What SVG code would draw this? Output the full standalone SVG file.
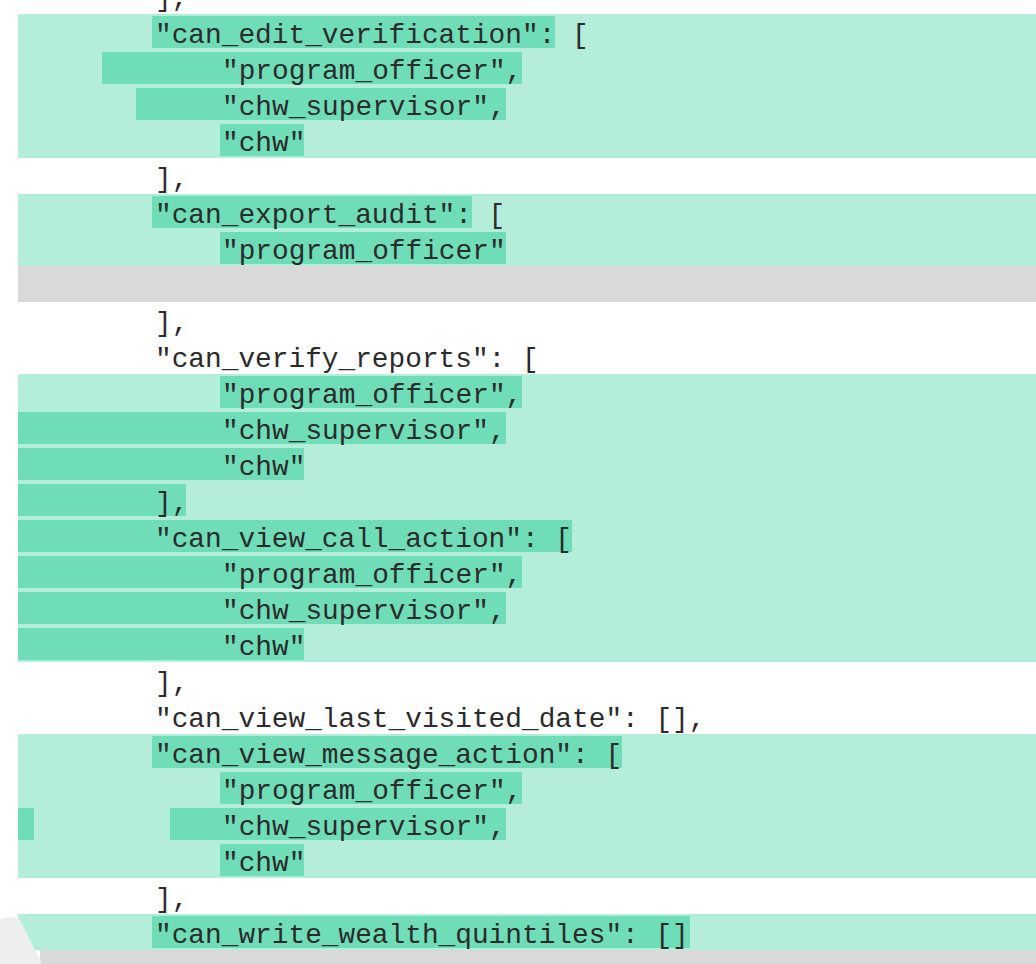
<svg xmlns="http://www.w3.org/2000/svg" width="1036" height="964" viewBox="0 0 1036 964">
<style>
.l{fill:#b4eedb}.d{fill:#70ddb9}.g{fill:#d9d9d9}
text{font-family:"Liberation Mono","DejaVu Sans Mono",monospace;font-size:27.8px;fill:#2b2b2b;white-space:pre}
</style>
<rect width="1036" height="964" fill="#fff"/>
<g id="bands">
<rect class="l" x="18" y="14" width="1018" height="144"/>
<rect class="l" x="18" y="194" width="1018" height="72"/>
<rect class="g" x="18" y="266" width="1018" height="36"/>
<rect class="l" x="18" y="374" width="1018" height="288"/>
<rect class="l" x="18" y="734" width="1018" height="144"/>
<rect class="l" x="18" y="914" width="1018" height="36"/>
<path class="g" d="M40 950H1036V964H40Z"/>
<path d="M0 920Q10 914 20 920L42 964H0Z" fill="#eeeeee"/>
</g>
<g id="highlights">
<rect class="d" x="152" y="16" width="403" height="32"/>
<rect class="d" x="102" y="52" width="420" height="32"/>
<rect class="d" x="136" y="88" width="370" height="32"/>
<rect class="d" x="220" y="124" width="84" height="32"/>
<rect class="d" x="152" y="196" width="320" height="32"/>
<rect class="d" x="220" y="232" width="286" height="32"/>
<rect class="d" x="220" y="376" width="302" height="32"/>
<rect class="d" x="18" y="412" width="488" height="32"/>
<rect class="d" x="18" y="448" width="286" height="32"/>
<rect class="d" x="18" y="484" width="168" height="32"/>
<rect class="d" x="18" y="520" width="554" height="32"/>
<rect class="d" x="18" y="556" width="504" height="32"/>
<rect class="d" x="18" y="592" width="488" height="32"/>
<rect class="d" x="18" y="628" width="286" height="32"/>
<rect class="d" x="152" y="736" width="470" height="32"/>
<rect class="d" x="220" y="772" width="302" height="32"/>
<rect class="d" x="18" y="808" width="16" height="32"/>
<rect class="d" x="170" y="808" width="336" height="32"/>
<rect class="d" x="220" y="844" width="84" height="32"/>
<rect class="d" x="152" y="916" width="538" height="32"/>
</g>
<g id="code">
<text x="155" y="6">],</text>
<text x="155" y="43">"can_edit_verification": [</text>
<text x="222" y="79">"program_officer",</text>
<text x="222" y="115">"chw_supervisor",</text>
<text x="222" y="151">"chw"</text>
<text x="155" y="187">],</text>
<text x="155" y="223">"can_export_audit": [</text>
<text x="222" y="259">"program_officer"</text>
<text x="155" y="331">],</text>
<text x="155" y="367">"can_verify_reports": [</text>
<text x="222" y="403">"program_officer",</text>
<text x="222" y="439">"chw_supervisor",</text>
<text x="222" y="475">"chw"</text>
<text x="155" y="511">],</text>
<text x="155" y="547">"can_view_call_action": [</text>
<text x="222" y="583">"program_officer",</text>
<text x="222" y="619">"chw_supervisor",</text>
<text x="222" y="655">"chw"</text>
<text x="155" y="691">],</text>
<text x="155" y="727">"can_view_last_visited_date": [],</text>
<text x="155" y="763">"can_view_message_action": [</text>
<text x="222" y="799">"program_officer",</text>
<text x="222" y="835">"chw_supervisor",</text>
<text x="222" y="871">"chw"</text>
<text x="155" y="907">],</text>
<text x="155" y="943">"can_write_wealth_quintiles": []</text>
</g>
</svg>
